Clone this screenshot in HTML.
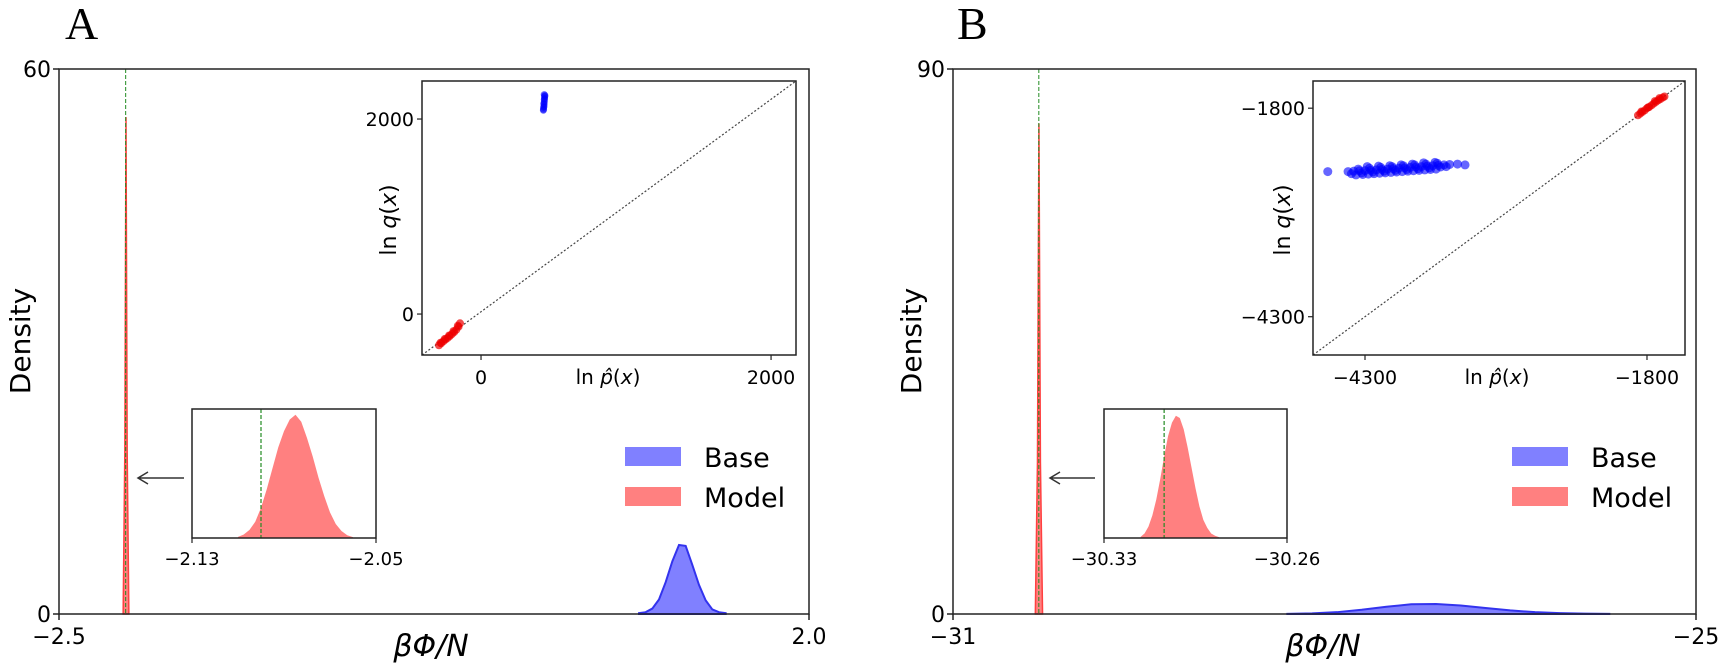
<!DOCTYPE html>
<html><head><meta charset="utf-8"><style>
html,body{margin:0;padding:0;background:#fff;}
svg{display:block;font-family:"DejaVu Sans","Liberation Sans",sans-serif;}
</style></head><body>
<svg id="fig" width="1725" height="667" viewBox="0 0 1725 667" xmlns="http://www.w3.org/2000/svg">
<text x="65" y="39" font-family="Liberation Serif, serif" font-size="46">A</text>
<text x="957" y="39" font-family="Liberation Serif, serif" font-size="46">B</text>
</svg>
<script>
// ---------- data: panel A ----------
const aBaseX = [0.98,1.02,1.06,1.10,1.14,1.18,1.22,1.26,1.30,1.34,1.38,1.42,1.46,1.50];
const aBaseY = [0.1,0.2,0.6,1.6,3.5,5.8,7.6,7.5,5.4,3.2,1.5,0.5,0.2,0.1];
const aModelX = [-2.115,-2.105,-2.098,-2.091,-2.081];
const aModelY = [0.3,18,54.7,18,0.3];
const aRef = -2.10;
const aInsetX = [-2.110,-2.1075,-2.105,-2.1025,-2.100,-2.0975,-2.095,-2.0925,-2.090,-2.0875,-2.085,-2.0825,-2.080,-2.0775,-2.075,-2.0725,-2.070,-2.0675,-2.065,-2.0625,-2.060];
const aInsetY = [0.5,1.5,3.5,7,13,21,30,39,46,51,53,50,43,35,26,18,11,6,3,1.2,0.4];
const aScatBlueX = [430,432,433,434,435,436,437,438,439,440,431,436];
const aScatBlueY = [2090,2120,2160,2130,2150,2200,2180,2210,2230,2240,2100,2250];
const aScatRedX = [-290,-275,-260,-245,-230,-215,-200,-185,-170,-155,-145,-280,-250,-220,-190,-160];
const aScatRedY = [-320,-300,-280,-262,-245,-225,-205,-185,-160,-130,-95,-295,-255,-220,-175,-120];
const aXTicks = ["−2.5","2.0"], aXTickV = [-2.5,2.0];
const aYTicks = ["0","60"], aYTickV = [0,60];
// ---------- data: panel B ----------
const bBaseX = [-28.3,-28.1,-27.9,-27.7,-27.5,-27.3,-27.1,-26.9,-26.7,-26.5,-26.3,-26.1,-25.9,-25.7];
const bBaseY = [0.03,0.1,0.3,0.7,1.2,1.6,1.65,1.4,1.0,0.6,0.3,0.15,0.07,0.03];
const bModelX = [-30.335,-30.318,-30.306,-30.294,-30.277];
const bModelY = [0.3,25,81,25,0.3];
const bRef = -30.307;
const bInsetX = [-30.316,-30.3145,-30.313,-30.3115,-30.310,-30.3085,-30.307,-30.3055,-30.304,-30.3025,-30.301,-30.2995,-30.298,-30.2965,-30.295,-30.2935,-30.292,-30.2905,-30.289,-30.2875,-30.286];
const bInsetY = [0.5,2,5,10,17,26,36,45,51,54,53,48,40,31,22,14,8,4.5,2,1,0.4];
const bScatBlueX = [-4630,-4450,-4400,-4350,-4300,-4250,-4200,-4150,-4100,-4050,-4000,-3950,-3900,-3850,-3800,-3750,-3700,-3650,-3600,-3550,-3480,-3413,-4380,-4320,-4270,-4220,-4170,-4120,-4070,-4020,-3970,-3920,-3870,-3820,-3770,-3720,-3670,-4280,-4180,-4080,-3980,-3880,-3780,-3680,-4420,-4330,-4230,-4130,-4030,-3930,-3830,-3730,-3630,-4360,-4260,-4160,-4060,-3960,-3860,-3760,-3660,-3580];
const bScatBlueY = [-2560,-2560,-2555,-2550,-2548,-2545,-2540,-2535,-2530,-2525,-2520,-2515,-2510,-2505,-2500,-2495,-2490,-2485,-2480,-2475,-2470,-2480,-2600,-2595,-2590,-2585,-2580,-2575,-2570,-2565,-2560,-2555,-2550,-2545,-2540,-2535,-2530,-2500,-2495,-2490,-2480,-2470,-2455,-2450,-2585,-2575,-2565,-2555,-2545,-2535,-2525,-2515,-2505,-2530,-2520,-2510,-2500,-2490,-2480,-2470,-2460,-2500];
const bScatRedX = [-1880,-1860,-1840,-1820,-1800,-1780,-1760,-1740,-1720,-1700,-1680,-1660,-1645,-1850,-1790,-1730,-1690];
const bScatRedY = [-1885,-1865,-1845,-1825,-1800,-1785,-1765,-1745,-1725,-1705,-1690,-1672,-1660,-1840,-1790,-1715,-1680];
const bXTicks = ["−31","−25"], bXTickV = [-31,-25];
const bYTicks = ["0","90"], bYTickV = [0,90];

const NS = "http://www.w3.org/2000/svg";
const svg = document.getElementById('fig');
function mk(tag, attrs, parent){
  const e = document.createElementNS(NS, tag);
  for (const k in attrs) e.setAttribute(k, attrs[k]);
  (parent||svg).appendChild(e);
  return e;
}
function txt(s, attrs){ const t = mk('text', attrs); t.textContent = s; return t; }
function lin(d0,d1,r0,r1){ return v => r0 + (v-d0)/(d1-d0)*(r1-r0); }

function histPath(xs, ys, sx, sy, y0){
  let d = `M${sx(xs[0])},${y0}`;
  for (let i=0;i<xs.length;i++) d += ` L${sx(xs[i])},${sy(ys[i])}`;
  d += ` L${sx(xs[xs.length-1])},${y0} Z`;
  return d;
}

function panel(p){
  const L=p.L, R=p.R, T=69, B=614;
  const sx = lin(p.xd[0], p.xd[1], L, R), sy = lin(0, p.ymax, B, T);
  const bp = mk('path', {d: histPath(p.baseX, p.baseY, sx, sy, B), fill:'#8080ff', stroke:'#3333ee', 'stroke-width':2});
  
  
  const mp = mk('path', {d: histPath(p.modelX, p.modelY, sx, sy, B), fill:'#ff8080', stroke:'#ff4040', 'stroke-width':1.5});
  
  
  const rl = mk('line', {x1:sx(p.ref), x2:sx(p.ref), y1:T, y2:B, stroke:'#228b22', 'stroke-width':1, 'stroke-dasharray':'4,2'});
  
  
  const fr = mk('rect', {x:L, y:T, width:R-L, height:B-T, fill:'none', stroke:'#222', 'stroke-width':1.5});
  
  
  p.xt.forEach((s,i)=>{
    const x = sx(p.xtv[i]);
    mk('line',{x1:x,x2:x,y1:B,y2:B+6,stroke:'#222','stroke-width':1.5});
    const t = txt(s,{x:x,y:B+30,'font-size':22,'text-anchor':'middle'});
    
    
  });
  p.yt.forEach((s,i)=>{
    const y = sy(p.ytv[i]);
    mk('line',{x1:L-6,x2:L,y1:y,y2:y,stroke:'#222','stroke-width':1.5});
    const t = txt(s,{x:L-8,y:y+8,'font-size':22,'text-anchor':'end'});
    
    
  });
  const xl = txt('βΦ/N',{x:p.xlab,y:656,'font-size':30,'font-style':'italic','text-anchor':'middle'});
  
  
  const yl = txt('Density',{x:0,y:0,'font-size':28,'text-anchor':'middle',transform:`translate(${p.ylabX},341) rotate(-90)`});
  
  
  [['Base','#8080ff',447],['Model','#ff8080',487]].forEach(([n,c,y])=>{
    const r = mk('rect',{x:p.legX,y:y,width:56,height:19,fill:c});
    
    
    const t = txt(n,{x:p.legX+79,y:y+20,'font-size':27});
    
    
  });
  const ar = mk('path',{d:`M${p.arrow[1]},478 L${p.arrow[0]},478 M${p.arrow[0]+10},472 L${p.arrow[0]},478 L${p.arrow[0]+10},484`,fill:'none',stroke:'#333','stroke-width':1.5});
  
  
  const hL=p.hL,hR=p.hR,hT=409,hB=538;
  const hx = lin(p.hxd[0],p.hxd[1],hL,hR), hy = lin(0,p.hymax,hB,hT);
  const ip = mk('path',{d:histPath(p.insX,p.insY,hx,hy,hB),fill:'#ff8080'});
  
  
  mk('line',{x1:hx(p.ref),x2:hx(p.ref),y1:hT,y2:hB,stroke:'#228b22','stroke-width':1.2,'stroke-dasharray':'4,2'});
  const hf = mk('rect',{x:hL,y:hT,width:hR-hL,height:hB-hT,fill:'none',stroke:'#222','stroke-width':1.5});
  
  
  p.hxt.forEach((s,i)=>{
    const x = hx(p.hxd[i]);
    mk('line',{x1:x,x2:x,y1:hB,y2:hB+5,stroke:'#222','stroke-width':1.2});
    const t = txt(s,{x:x,y:hB+27,'font-size':18,'text-anchor':'middle'});
    
    
  });
  const sL=p.sL,sR=p.sR,sT=81,sB=355;
  const qx = lin(p.sxd[0],p.sxd[1],sL,sR), qy = lin(p.syd[0],p.syd[1],sB,sT);
  const cp = mk('clipPath',{id:p.id+'clip'}); mk('rect',{x:sL,y:sT,width:sR-sL,height:sB-sT},cp);
  const g = mk('g',{'clip-path':`url(#${p.id}clip)`});
  const dg = mk('line',{x1:sL,y1:sB,x2:sR,y2:sT,stroke:'#444','stroke-width':1.2,'stroke-dasharray':'2,2'},g);
  
  
  p.blueX.forEach((v,i)=>{
    const c = mk('circle',{cx:qx(v),cy:qy(p.blueY[i]),r:p.br,fill:'#0000ff','fill-opacity':0.6},g);
    
    
  });
  p.redX.forEach((v,i)=>{
    const c = mk('circle',{cx:qx(v),cy:qy(p.redY[i]),r:4,fill:'#ee0000','fill-opacity':0.7},g);
    
    
  });
  const sf = mk('rect',{x:sL,y:sT,width:sR-sL,height:sB-sT,fill:'none',stroke:'#222','stroke-width':1.5});
  
  
  p.sxt.forEach((s,i)=>{
    const x = qx(p.sxtv[i]);
    mk('line',{x1:x,x2:x,y1:sB,y2:sB+5,stroke:'#222','stroke-width':1.2});
    const t = txt(s,{x:x,y:sB+29,'font-size':19,'text-anchor':'middle'});
    
    
  });
  p.sxt.forEach((s,i)=>{
    const y = qy(p.sxtv[i]);
    mk('line',{x1:sL-5,x2:sL,y1:y,y2:y,stroke:'#222','stroke-width':1.2});
    const t = txt(s,{x:sL-8,y:y+7,'font-size':19,'text-anchor':'end'});
    
    
  });
  const sxl = txt('',{x:p.sxlab,y:sB+29,'font-size':20,'text-anchor':'middle'});
  sxl.innerHTML = 'ln <tspan font-style="italic">p̂</tspan>(<tspan font-style="italic">x</tspan>)';
  
  
  const syl = txt('',{x:0,y:0,'font-size':22,'text-anchor':'middle',transform:`translate(${p.sylabX},220) rotate(-90)`});
  syl.innerHTML = 'ln <tspan font-style="italic">q</tspan>(<tspan font-style="italic">x</tspan>)';
  
  
}

panel({id:'panel-a',L:59,R:809,xd:[-2.5,2.0],ymax:60,baseX:aBaseX,baseY:aBaseY,modelX:aModelX,modelY:aModelY,ref:aRef,
  xt:aXTicks,xtv:aXTickV,yt:aYTicks,ytv:aYTickV,xlab:431,ylabX:30,legX:625,arrow:[138,184],
  hL:192,hR:376,hxd:[-2.13,-2.05],hxt:["−2.13","−2.05"],hymax:55.5,insX:aInsetX,insY:aInsetY,
  sL:422,sR:796,sxd:[-407,2172],syd:[-420,2390],blueX:aScatBlueX,blueY:aScatBlueY,redX:aScatRedX,redY:aScatRedY,br:3.5,
  sxt:["0","2000"],sxtv:[0,2000],sxlab:608,sylabX:396});
panel({id:'panel-b',L:953,R:1696,xd:[-31,-25],ymax:90,baseX:bBaseX,baseY:bBaseY,modelX:bModelX,modelY:bModelY,ref:bRef,
  xt:bXTicks,xtv:bXTickV,yt:bYTicks,ytv:bYTickV,xlab:1323,ylabX:921,legX:1512,arrow:[1050,1095],
  hL:1104,hR:1287,hxd:[-30.33,-30.26],hxt:["−30.33","−30.26"],hymax:57,insX:bInsetX,insY:bInsetY,
  sL:1313,sR:1685,sxd:[-4761,-1463],syd:[-4759,-1474],blueX:bScatBlueX,blueY:bScatBlueY,redX:bScatRedX,redY:bScatRedY,br:4.5,
  sxt:["−4300","−1800"],sxtv:[-4300,-1800],sxlab:1497,sylabX:1290});
</script>
</body></html>
